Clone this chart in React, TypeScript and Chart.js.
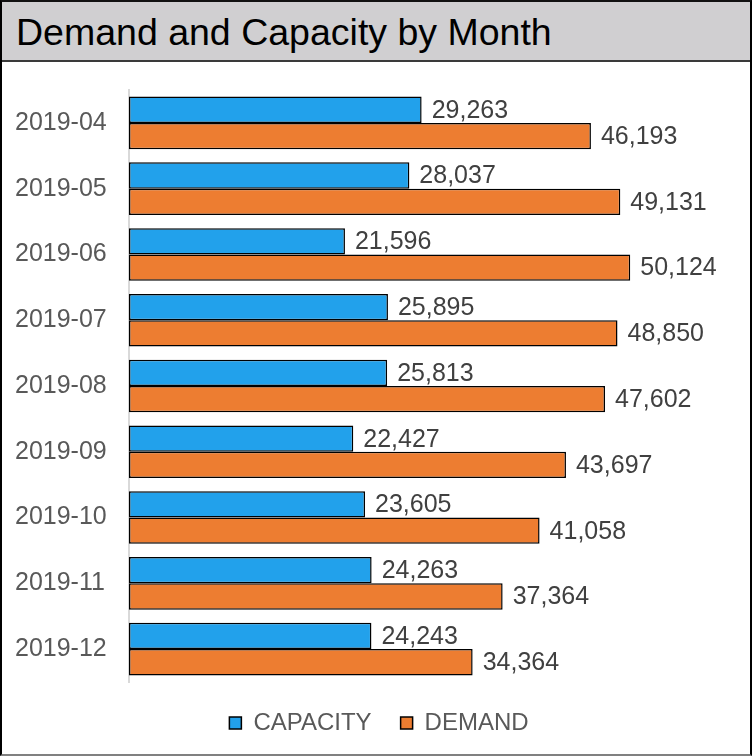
import React, { useEffect, useRef } from "react";
import { Chart, registerables } from "chart.js";

Chart.register(...registerables);

const TITLE = "Demand and Capacity by Month";
const MONTHS = ["2019-04", "2019-05", "2019-06", "2019-07", "2019-08", "2019-09", "2019-10", "2019-11", "2019-12"];
const CAPACITY = [29263, 28037, 21596, 25895, 25813, 22427, 23605, 24263, 24243];
const DEMAND = [46193, 49131, 50124, 48850, 47602, 43697, 41058, 37364, 34364];
const SERIES_NAMES = ["CAPACITY", "DEMAND"];
const X_MAX = 61400;

const FONT = "'Liberation Sans', Arial, Helvetica, sans-serif";

const valueLabels = {
  id: "valueLabels",
  afterDatasetsDraw(chart: any) {
    const ctx = chart.ctx;
    ctx.save();
    ctx.font = `25px ${FONT}`;
    ctx.fillStyle = "#404040";
    ctx.textAlign = "left";
    ctx.textBaseline = "middle";
    chart.data.datasets.forEach((ds: any, di: number) => {
      const meta = chart.getDatasetMeta(di);
      meta.data.forEach((el: any, i: number) => {
        const v = ds.data[i] as number;
        ctx.fillText(v.toLocaleString("en-US"), el.x + 10, el.y + 1);
      });
    });
    ctx.restore();
  },
};

export default function App() {
  const ref = useRef<HTMLCanvasElement | null>(null);

  useEffect(() => {
    if (!ref.current) return;
    const chart = new Chart(ref.current, {
      type: "bar",
      data: {
        labels: MONTHS,
        datasets: [
          {
            label: SERIES_NAMES[0],
            data: CAPACITY,
            backgroundColor: "#22A1EB",
            borderColor: "#000000",
            borderWidth: 1.5,
            borderSkipped: false,
          },
          {
            label: SERIES_NAMES[1],
            data: DEMAND,
            backgroundColor: "#ED7D31",
            borderColor: "#000000",
            borderWidth: 1.5,
            borderSkipped: false,
          },
        ],
      },
      options: {
        indexAxis: "y",
        responsive: false,
        animation: false,
        devicePixelRatio: 1,
        layout: { padding: { top: 28, bottom: 9, left: 13, right: 7 } },
        datasets: {
          bar: { categoryPercentage: 0.8, barPercentage: 1 },
        },
        scales: {
          x: { display: false, min: 0, max: X_MAX },
          y: {
            grid: { display: false, drawTicks: false },
            border: { display: true, color: "#d9d9d9", width: 2 },
            ticks: {
              color: "#595959",
              font: { family: FONT, size: 25 },
              padding: 0,
              crossAlign: "far",
            },
            afterFit: (scale: any) => {
              scale.width = 114;
            },
          },
        },
        plugins: {
          title: { display: false },
          tooltip: { enabled: false },
          legend: {
            display: true,
            position: "bottom",
            labels: {
              boxWidth: 12,
              boxHeight: 12,
              padding: 29,
              color: "#595959",
              font: { family: FONT, size: 24 },
            },
          },
        },
      },
      plugins: [valueLabels],
    });
    return () => chart.destroy();
  }, []);

  return (
    <div
      style={{
        position: "fixed",
        left: 0,
        top: 0,
        width: 752,
        height: 756,
        boxSizing: "border-box",
        borderLeft: "2px solid #000",
        borderRight: "2px solid #000",
        borderTop: "2px solid #111",
        borderBottom: "2px solid #808080",
        overflow: "hidden",
        background: "#fff",
      }}
    >
      <div
        style={{
          height: 46,
          background: "#d0cfd1",
          borderBottom: "2px solid #3a3a3a",
          paddingTop: 12,
          paddingLeft: 14,
          fontFamily: FONT,
          fontSize: 37.5,
          lineHeight: "37.5px",
          color: "#000",
          whiteSpace: "nowrap",
        }}
      >
        {TITLE}
      </div>
      <canvas ref={ref} width={748} height={692} style={{ display: "block", width: 748, height: 692 }} />
    </div>
  );
}
